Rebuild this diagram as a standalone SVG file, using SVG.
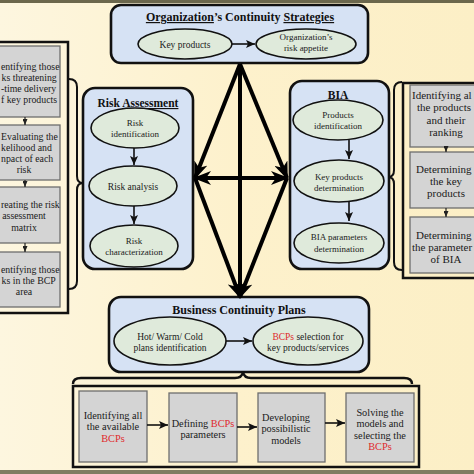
<svg xmlns="http://www.w3.org/2000/svg" width="474" height="474" viewBox="0 0 474 474">
<defs>
<linearGradient id="bg" x1="0" y1="0" x2="1" y2="0">
<stop offset="0" stop-color="#fdf6df"/>
<stop offset="0.5" stop-color="#fdf1cc"/>
<stop offset="1" stop-color="#fcefc6"/>
</linearGradient>
<marker id="big" markerUnits="userSpaceOnUse" markerWidth="18" markerHeight="14" refX="16" refY="7" orient="auto-start-reverse" viewBox="0 0 18 14"><path d="M0,0 L18,7 L0,14 L5,7 z" fill="#000"/></marker>
<marker id="mid" markerUnits="userSpaceOnUse" markerWidth="9" markerHeight="8" refX="9" refY="4" orient="auto" viewBox="0 0 9 8"><path d="M0,0 L9,4 L0,8 L2,4 z" fill="#111"/></marker>
<marker id="sm" markerUnits="userSpaceOnUse" markerWidth="6" markerHeight="5" refX="6" refY="2.5" orient="auto" viewBox="0 0 6 5"><path d="M0,0 L6,2.5 L0,5 z" fill="#222"/></marker>
</defs>
<style>
.t{font-family:"Liberation Serif","Times New Roman",serif;fill:#1a1a1a}
.c{text-anchor:middle}
.e{text-anchor:end}
.h{font-weight:bold;font-size:12px;fill:#111}
.s9{font-size:9px}
.s95{font-size:9.5px}
.s98{font-size:9.8px}
.s10{font-size:10.3px}
.s11{font-size:11px}
.blue{fill:#d6e2f4;stroke:#111;stroke-width:2.6}
.ell{fill:#dfeadb;stroke:#111;stroke-width:1.6}
.grey{fill:#d4d4d4;stroke:#6e6e6e;stroke-width:1.3}
.outer{fill:none;stroke:#111;stroke-width:2.5}
.red{fill:#e0282b}
.thick{stroke:#000;stroke-width:4;fill:none}
.thin{stroke:#111;stroke-width:1.6;fill:none}
.brace{stroke:#111;stroke-width:2;fill:none}
</style>

<rect x="0" y="0" width="474" height="474" fill="url(#bg)"/>
<rect x="0" y="0" width="474" height="3" fill="#6b674c"/>
<rect x="0" y="470" width="474" height="4" fill="#807c62"/>

<g id="left-column">
<rect x="-5" y="42" width="73" height="271" class="outer"/>
<rect x="-5" y="46" width="65" height="71" class="grey"/>
<rect x="-5" y="125" width="65" height="55" class="grey"/>
<rect x="-5" y="187" width="65" height="56" class="grey"/>
<rect x="-5" y="252" width="65" height="55" class="grey"/>
<g class="t s98">
<text x="1" y="69.5">entifying those</text>
<text x="1.5" y="80.5">ks threatening</text>
<text x="1" y="91.5">-time delivery</text>
<text x="1" y="102.5">f key products</text>
<text x="1" y="139.5">Evaluating the</text>
<text x="1" y="150.5">kelihood and</text>
<text x="1" y="161.5">npact of each</text>
<text x="24" y="172.5" class="c">risk</text>
<text x="1" y="207.5">reating the risk</text>
<text x="24" y="218.5" class="c">assessment</text>
<text x="24" y="230.5" class="c">matrix</text>
<text x="1" y="272.5">entifying those</text>
<text x="1.5" y="283.5">ks in the BCP</text>
<text x="24" y="294.5" class="c">area</text>
</g>
</g>

<g id="right-column">
<rect x="403" y="83" width="80" height="195" class="outer"/>
<rect x="410" y="85" width="72" height="62" class="grey"/>
<rect x="410" y="152" width="72" height="56" class="grey"/>
<rect x="410" y="217" width="72" height="56" class="grey"/>
<g class="t s11">
<text x="412" y="99">Identifying al</text>
<text x="417" y="111">the products</text>
<text x="446" y="124" class="c">and their</text>
<text x="446" y="136" class="c">ranking</text>
<text x="416" y="173">Determining</text>
<text x="446" y="185" class="c">the key</text>
<text x="446" y="197" class="c">products</text>
<text x="416" y="239">Determining</text>
<text x="412" y="251">the parameter</text>
<text x="446" y="262.5" class="c">of BIA</text>
</g>
</g>

<g id="strategies">
<rect x="111" y="5" width="257" height="58" rx="10" class="blue"/>
<text x="240" y="21" class="t c h"><tspan text-decoration="underline">Organization</tspan>’s Continuity <tspan text-decoration="underline">Strategies</tspan></text>
<ellipse cx="185" cy="44" rx="47" ry="15" class="ell"/>
<text x="185" y="47.5" class="t c s95">Key products</text>
<ellipse cx="306" cy="44" rx="50" ry="15" class="ell"/>
<text x="306" y="39.5" class="t c s9">Organization’s</text>
<text x="306" y="51" class="t c s9">risk appetite</text>
</g>

<g id="risk-assessment">
<rect x="83" y="88" width="110" height="181" rx="12" class="blue"/>
<text x="138" y="107" class="t c h" style="font-size:11.5px">Risk <tspan text-decoration="underline">Assessment</tspan></text>
<ellipse cx="135" cy="128" rx="44" ry="20" class="ell"/>
<text x="135" y="126" class="t c s9">Risk</text>
<text x="135" y="136.5" class="t c s9">identification</text>
<ellipse cx="133" cy="186" rx="44" ry="20" class="ell"/>
<text x="133" y="189.5" class="t c s95">Risk analysis</text>
<ellipse cx="134" cy="246" rx="44" ry="21" class="ell"/>
<text x="134" y="244" class="t c s9">Risk</text>
<text x="134" y="255" class="t c s9">characterization</text>
</g>

<g id="bia">
<rect x="290" y="81" width="99" height="188" rx="12" class="blue"/>
<text x="338" y="99" class="t c h" style="font-size:11.5px">BIA</text>
<ellipse cx="338" cy="120" rx="45" ry="20" class="ell"/>
<text x="338" y="118" class="t c s9">Products</text>
<text x="338" y="129" class="t c s9">identification</text>
<ellipse cx="339" cy="181" rx="45" ry="21" class="ell"/>
<text x="339" y="180" class="t c s9">Key products</text>
<text x="339" y="191" class="t c s9">determination</text>
<ellipse cx="339" cy="243" rx="45" ry="20" class="ell"/>
<text x="339" y="240" class="t c s9">BIA parameters</text>
<text x="339" y="252" class="t c s9">determination</text>
</g>

<g id="bcp">
<rect x="109" y="297" width="260" height="75" rx="12" class="blue"/>
<text x="239" y="314" class="t c h">Business Continuity Plans</text>
<ellipse cx="170" cy="341" rx="56" ry="24" class="ell"/>
<text x="170" y="339.5" class="t c s95">Hot/ Warm/ Cold</text>
<text x="170" y="350.5" class="t c s95">plans identification</text>
<ellipse cx="308" cy="341" rx="55" ry="24" class="ell"/>
<text x="308" y="339.5" class="t c s95"><tspan class="red">BCPs</tspan> selection for</text>
<text x="308" y="350.5" class="t c s95">key products/services</text>
</g>

<g id="bcp-steps">
<rect x="73" y="386" width="346" height="81" class="outer"/>
<rect x="79" y="391" width="68" height="71" class="grey"/>
<rect x="169" y="393" width="68" height="69" class="grey"/>
<rect x="258" y="393" width="67" height="69" class="grey"/>
<rect x="346" y="393" width="68" height="69" class="grey"/>
<g class="t s10">
<text x="113" y="418.5" class="c">Identifying all</text>
<text x="113" y="430" class="c">the available</text>
<text x="113" y="441.5" class="c red">BCPs</text>
<text x="203" y="426.5" class="c">Defining <tspan class="red">BCPs</tspan></text>
<text x="203" y="438" class="c">parameters</text>
<text x="286" y="420.5" class="c">Developing</text>
<text x="286" y="432" class="c">possibilistic</text>
<text x="286" y="443.5" class="c">models</text>
<text x="380" y="415.5" class="c">Solving the</text>
<text x="380" y="427" class="c">models and</text>
<text x="380" y="438.5" class="c">selecting the</text>
<text x="380" y="450" class="c red">BCPs</text>
</g>
</g>

<g id="connectors">
<line x1="240" y1="64" x2="240" y2="297" class="thick" marker-end="url(#big)"/>
<line x1="240" y1="64" x2="195" y2="178" class="thick" marker-end="url(#big)"/>
<line x1="240" y1="64" x2="287" y2="178" class="thick" marker-end="url(#big)"/>
<line x1="195" y1="178" x2="240" y2="297" class="thick" marker-end="url(#big)"/>
<line x1="287" y1="178" x2="240" y2="297" class="thick" marker-end="url(#big)"/>
<line x1="195" y1="178" x2="287" y2="178" class="thick" marker-start="url(#big)" marker-end="url(#big)"/>
<line x1="232" y1="44" x2="255" y2="44" class="thin" marker-end="url(#mid)"/>
<line x1="226" y1="341" x2="252" y2="341" class="thin" marker-end="url(#mid)"/>
<line x1="134" y1="148" x2="134" y2="165" class="thin" marker-end="url(#mid)"/>
<line x1="134" y1="206" x2="134" y2="224" class="thin" marker-end="url(#mid)"/>
<line x1="349" y1="140" x2="349" y2="159" class="thin" marker-end="url(#mid)"/>
<line x1="349" y1="202" x2="349" y2="221" class="thin" marker-end="url(#mid)"/>
<line x1="147" y1="425" x2="168" y2="425" class="thin" marker-end="url(#mid)"/>
<line x1="237" y1="427" x2="257" y2="427" class="thin" marker-end="url(#mid)"/>
<line x1="325" y1="423" x2="345" y2="423" class="thin" marker-end="url(#mid)"/>
<line x1="25" y1="117" x2="25" y2="125" stroke="#222" stroke-width="1.2" marker-end="url(#sm)"/>
<line x1="25" y1="180" x2="25" y2="187" stroke="#222" stroke-width="1.2" marker-end="url(#sm)"/>
<line x1="25" y1="243" x2="25" y2="252" stroke="#222" stroke-width="1.2" marker-end="url(#sm)"/>
<line x1="446" y1="147" x2="446" y2="152" stroke="#222" stroke-width="1.2" marker-end="url(#sm)"/>
<line x1="446" y1="208" x2="446" y2="217" stroke="#222" stroke-width="1.2" marker-end="url(#sm)"/>
<path d="M69,79 Q77,79 77,87 L77,176 Q77,183 83,183 Q77,183 77,190 L77,281 Q77,289 69,289" class="brace"/>
<path d="M402,82 Q394,82 394,90 L394,170 Q394,177 388,177 Q394,177 394,184 L394,262 Q394,270 402,270" class="brace"/>
<path d="M73,384 Q73,378 81,378 L235,378 Q242,378 243,372 Q244,378 251,378 L404,378 Q412,378 412,384" class="brace" style="stroke-width:2.4"/>
</g>
</svg>
